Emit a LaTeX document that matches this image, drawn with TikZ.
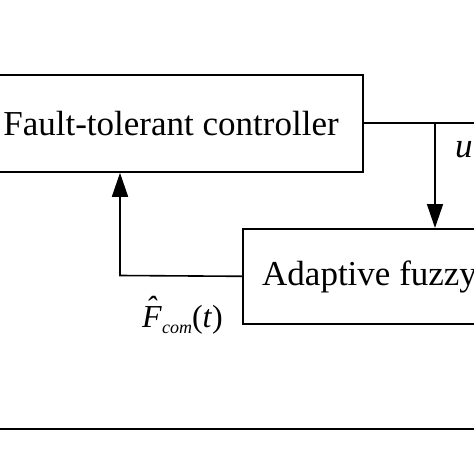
\documentclass[tikz,border=0pt]{standalone}
\usepackage{fontspec}
\setmainfont{Liberation Serif}
\usetikzlibrary{arrows.meta}
\begin{document}
\begin{tikzpicture}[x=1pt,y=-1pt,
  blk/.style={draw, line width=1.6pt, inner sep=0pt},
  conn/.style={line width=1.6pt},
  arr/.style={conn, -{Triangle[length=24pt,width=16pt]}},
  big/.style={font=\fontsize{35}{40}\selectfont},
  lbl/.style={inner sep=0pt, anchor=base west}
]
\useasboundingbox (0,0) rectangle (474,474);
\clip (0,0) rectangle (474,474);
% blocks
\node[blk, big, minimum width=384pt, minimum height=97pt] (ftc) at (171,123.5) {Fault-tolerant controller};
\node[blk, minimum width=300pt, minimum height=95pt, anchor=north west] (afo) at (242,228) {};
\node[lbl, big] (afotext) at (262,285) {Adaptive fuzzy};
% connectors
\coordinate (out) at (490,123);
\coordinate (jn) at (435,123);
\coordinate (fb) at (120,275.5);
\draw[conn] (ftc.east |- out) -- (out);
\draw[arr] (jn) -- (jn |- afo.north);
\draw[arr] (afo.west) -- (fb) -- (fb |- ftc.south);
% labels
\node[lbl, big, font=\fontsize{35}{40}\selectfont\itshape] (ulbl) at (455,157) {u};
\node[lbl, font=\fontsize{32}{36}\selectfont] (flbl) at (142,327) {\makebox[0pt][l]{\hspace{3.5pt}\raisebox{9pt}{\itshape\symbol{"02C6}}}\textit{F}\raisebox{-6pt}{\fontsize{18}{20}\selectfont\itshape com}(\textit{t})};
% bottom rule
\coordinate (bl) at (0,429);
\coordinate (br) at (474,429);
\draw[line width=2pt] (bl) -- (br);
\end{tikzpicture}
\end{document}
